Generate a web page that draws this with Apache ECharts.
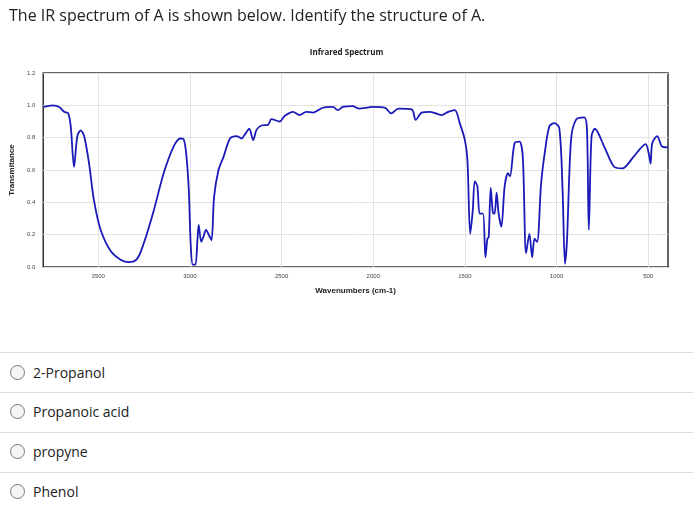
<!DOCTYPE html>
<html>
<head>
<meta charset="utf-8">
<script src="https://cdn.jsdelivr.net/npm/echarts@6/dist/echarts.min.js"></script>
<style>
  body { margin: 0; background: #fff; font-family: "Open Sans", "Noto Sans", sans-serif; }
  #chart { position: absolute; left: 0; top: 0; width: 693px; height: 320px; }
  .sep { position: absolute; left: 0; width: 693px; height: 1px; background: #ddd; }
  .opt { position: absolute; left: 10px; font-size: 14px; color: #222; display: flex; align-items: center; }
  .opt i { display: inline-block; width: 13px; height: 13px; border: 1px solid #777; border-radius: 50%; margin-right: 8px; background: #f4f4f4; }
</style>
</head>
<body>
<div id="chart"></div>
<div class="sep" style="top:352px"></div>
<div class="opt" style="top:363px"><i></i>2-Propanol</div>
<div class="sep" style="top:392px"></div>
<div class="opt" style="top:402px"><i></i>Propanoic acid</div>
<div class="sep" style="top:432px"></div>
<div class="opt" style="top:442px"><i></i>propyne</div>
<div class="sep" style="top:472px"></div>
<div class="opt" style="top:482px"><i></i>Phenol</div>
<script>
// spectrum: wavenumber (cm-1) and transmittance
const wavenumbers = [3800,3749,3713,3686,3664,3650,3632,3614,3596,3577,3550,3523,3487,3433,3378,3333,3288,3252,3197,3143,3089,3052,3034,3020,3006,2995,2984,2970,2959,2952,2938,2927,2912,2895,2882,2868,2844,2817,2781,2745,2718,2700,2676,2655,2636,2609,2573,2555,2510,2482,2437,2402,2365,2329,2275,2220,2193,2166,2112,2080,2000,1935,1902,1862,1790,1768,1736,1690,1627,1591,1555,1528,1500,1486,1471,1457,1446,1432,1419,1401,1388,1377,1370,1359,1347,1338,1327,1316,1301,1283,1265,1254,1229,1202,1184,1166,1148,1133,1120,1106,1084,1062,1039,1012,985,967,954,943,921,894,849,834,824,809,791,740,686,641,578,514,496,487,478,451,424,392];
const transmittance = [0.99,1.0,0.99,0.96,0.95,0.87,0.62,0.81,0.845,0.81,0.64,0.41,0.23,0.10,0.045,0.03,0.05,0.145,0.35,0.58,0.745,0.795,0.79,0.70,0.475,0.125,0.015,0.015,0.165,0.26,0.155,0.185,0.23,0.195,0.165,0.435,0.60,0.68,0.795,0.81,0.795,0.82,0.855,0.785,0.85,0.875,0.88,0.915,0.90,0.935,0.96,0.94,0.96,0.955,0.985,0.99,0.97,0.99,0.995,0.98,0.99,0.985,0.95,0.98,0.975,0.91,0.955,0.96,0.94,0.96,0.97,0.89,0.785,0.66,0.205,0.35,0.53,0.50,0.33,0.33,0.06,0.175,0.185,0.49,0.335,0.33,0.46,0.33,0.25,0.50,0.58,0.56,0.765,0.775,0.68,0.085,0.205,0.06,0.175,0.155,0.52,0.725,0.87,0.89,0.86,0.475,0.02,0.165,0.785,0.91,0.925,0.85,0.23,0.81,0.855,0.745,0.62,0.61,0.685,0.76,0.695,0.64,0.765,0.81,0.745,0.74];
const xTicks = [3500,3000,2500,2000,1500,1000,500];

let chart = echarts.init(document.getElementById('chart'));
let option = {
    animation: false,
    title: [
        { text: 'The IR spectrum of A is shown below. Identify the structure of A.', left: 4, top: 3,
          textStyle: { fontSize: 16, fontWeight: 'normal', color: '#222', fontFamily: 'Open Sans' } },
        { text: 'Infrared Spectrum', left: 'center', top: 44,
          textStyle: { fontSize: 8, fontWeight: 'bold', color: '#222', fontFamily: 'Open Sans' } }
    ],
    grid: { left: 39, right: 25, top: 73, bottom: 53, show: true, borderColor: '#333', borderWidth: 1.5 },
    xAxis: {
        type: 'value', inverse: true, min: 392, max: 3800,
        name: 'Wavenumbers (cm-1)', nameLocation: 'middle', nameGap: 20,
        nameTextStyle: { fontSize: 8, fontWeight: 'bold', color: '#222' },
        axisLine: { show: false },
        axisTick: { show: false, customValues: xTicks },
        axisLabel: { customValues: xTicks, fontSize: 6, color: '#444', margin: 6, formatter: v => String(v) },
        splitLine: { show: true, lineStyle: { color: '#e2e2e2' } }
    },
    yAxis: {
        type: 'value', min: 0, max: 1.2, interval: 0.2,
        name: 'Transmitance', nameLocation: 'middle', nameGap: 26,
        nameTextStyle: { fontSize: 8, fontWeight: 'bold', color: '#222' },
        axisLine: { show: false }, axisTick: { show: false },
        axisLabel: { fontSize: 6, color: '#444', formatter: v => v.toFixed(1) },
        splitLine: { lineStyle: { color: '#e2e2e2' } }
    },
    series: [{
        type: 'line', smooth: 0.3, symbol: 'none',
        data: wavenumbers.map((w, i) => [w, transmittance[i]]),
        lineStyle: { color: '#1a1ab8', width: 1.8 }
    }]
};
chart.setOption(option);
</script>
</body>
</html>
